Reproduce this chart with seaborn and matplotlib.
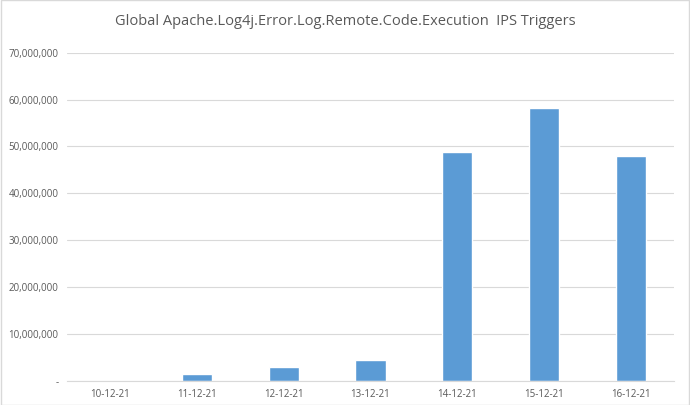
import matplotlib
matplotlib.use("Agg")
import matplotlib.pyplot as plt
import seaborn as sns
import pandas as pd
from matplotlib.ticker import FuncFormatter

dates = ["10-12-21", "11-12-21", "12-12-21", "13-12-21", "14-12-21", "15-12-21", "16-12-21"]
triggers = [0, 1500000, 3000000, 4500000, 48800000, 58100000, 47900000]
y_ticks = list(range(0, 70000001, 10000000))

df = pd.DataFrame({"date": dates, "triggers": triggers})

sns.set_style("white")
plt.rcParams["font.family"] = ["Open Sans", "DejaVu Sans"]

fig = plt.figure(figsize=(6.9, 4.05), dpi=100)
ax = fig.add_axes([0.097, 0.06, 0.88, 0.81])
sns.barplot(data=df, x="date", y="triggers", color="#5B9BD5", saturation=1, width=0.35, ax=ax)

ax.set_ylim(0, 70000000)
ax.set_yticks(y_ticks)
ax.yaxis.set_major_formatter(FuncFormatter(lambda v, p: "-" if v == 0 else f"{int(v):,}"))
ax.grid(True, axis="y", color="#D9D9D9", linewidth=0.8)
ax.set_axisbelow(True)
for s in ["top", "right", "left"]:
    ax.spines[s].set_visible(False)
ax.spines["bottom"].set_color("#D9D9D9")
ax.tick_params(axis="both", length=0, labelsize=7, colors="#595959", pad=6)
ax.set_xlabel("")
ax.set_ylabel("")

fig.suptitle("Global Apache.Log4j.Error.Log.Remote.Code.Execution  IPS Triggers",
             y=0.965, fontsize=10.5, color="#595959")
fig.patches.append(plt.Rectangle((0.001, 0.001), 0.998, 0.998, transform=fig.transFigure,
                                 fill=False, edgecolor="#D9D9D9", linewidth=1))

fig.savefig("out.png", dpi=100)
